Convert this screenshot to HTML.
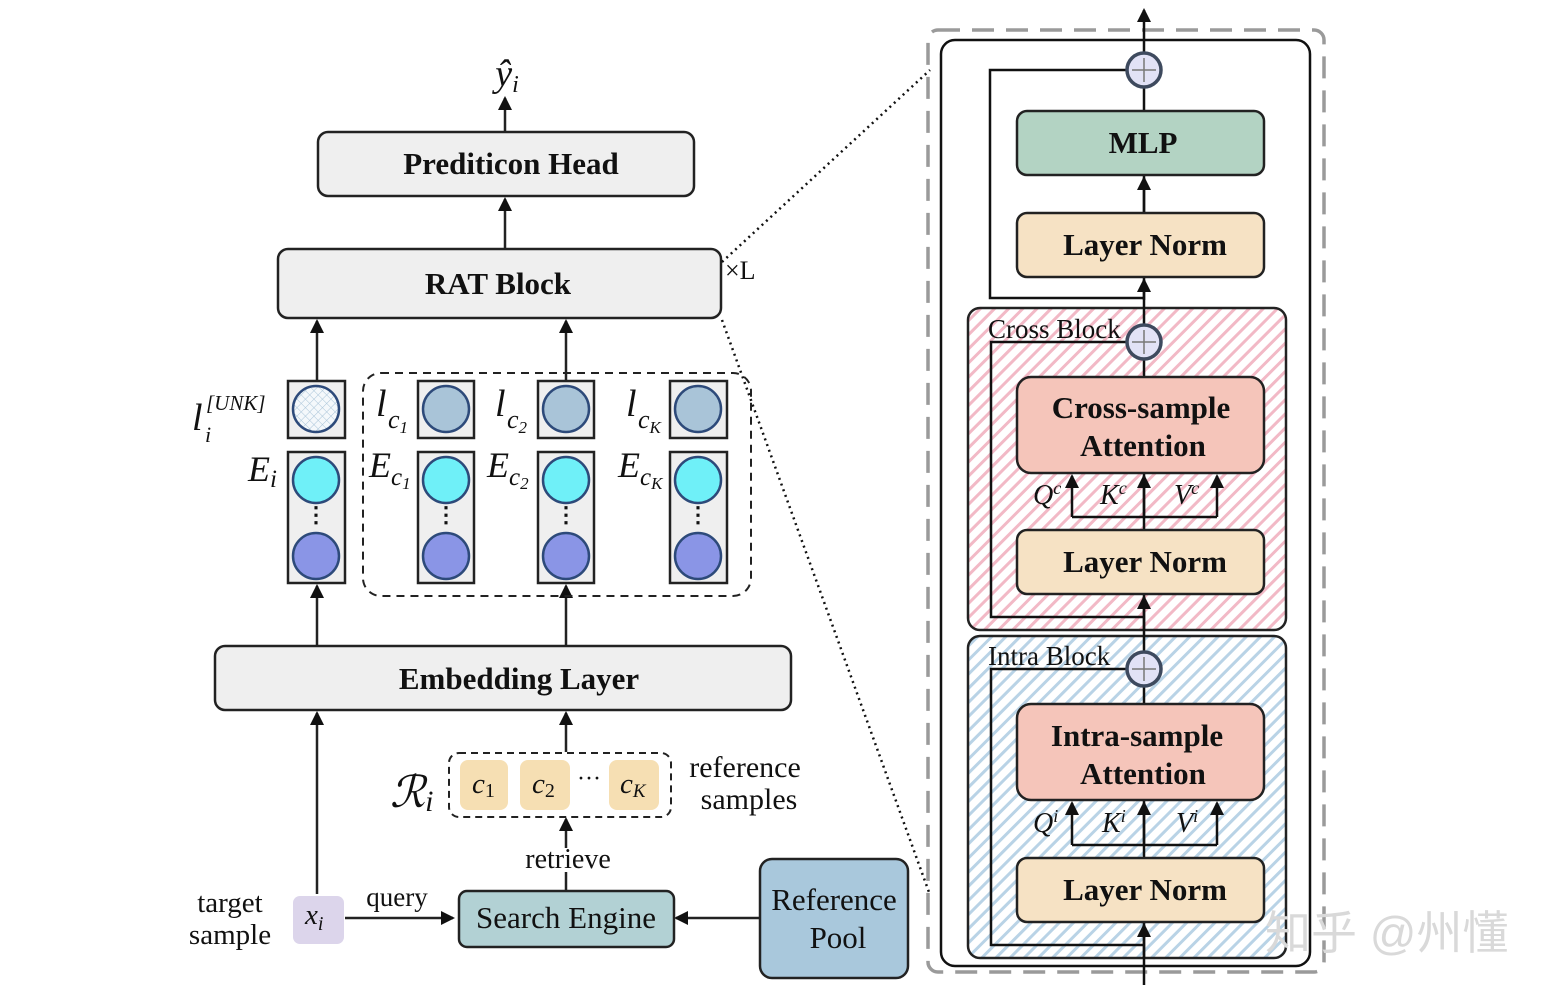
<!DOCTYPE html>
<html><head><meta charset="utf-8"><style>
html,body{margin:0;padding:0;background:#fff;}
svg{display:block;}
text{font-family:"Liberation Serif",serif;fill:#111;}
.b{font-weight:bold;}
.i{font-style:italic;}
</style></head><body>
<svg width="1552" height="994" viewBox="0 0 1552 994" xmlns="http://www.w3.org/2000/svg">
<defs>
<marker id="ah2" markerWidth="14" markerHeight="14" refX="12" refY="7" orient="auto" markerUnits="userSpaceOnUse"><path d="M0,0 L14,7 L0,14 z" fill="#111"/></marker>
<pattern id="pink" width="10" height="10" patternUnits="userSpaceOnUse" patternTransform="rotate(45)"><rect width="10" height="10" fill="#fff"/><rect width="3" height="10" fill="#f2b9c6"/></pattern>
<pattern id="blue" width="10" height="10" patternUnits="userSpaceOnUse" patternTransform="rotate(45)"><rect width="10" height="10" fill="#fff"/><rect width="3" height="10" fill="#b9d3e6"/></pattern>
<pattern id="mesh" width="6" height="6" patternUnits="userSpaceOnUse" patternTransform="rotate(45)"><rect width="6" height="6" fill="#f4f8fb"/><path d="M0,0 H6 M0,0 V6" stroke="#a9c4d8" stroke-width="1"/></pattern>
</defs>

<g stroke="#222" stroke-width="2.5" fill="none">
<line x1="505" y1="131" x2="505" y2="98" marker-end="url(#ah2)"/>
<line x1="505" y1="248" x2="505" y2="199" marker-end="url(#ah2)"/>
<line x1="317" y1="380" x2="317" y2="321" marker-end="url(#ah2)"/>
<line x1="566" y1="380" x2="566" y2="321" marker-end="url(#ah2)"/>
<line x1="317" y1="645" x2="317" y2="586" marker-end="url(#ah2)"/>
<line x1="566" y1="645" x2="566" y2="586" marker-end="url(#ah2)"/>
<line x1="317" y1="894" x2="317" y2="713" marker-end="url(#ah2)"/>
<line x1="566" y1="752" x2="566" y2="713" marker-end="url(#ah2)"/>
<line x1="566" y1="890" x2="566" y2="819" marker-end="url(#ah2)"/>
<line x1="345" y1="918" x2="453" y2="918" marker-end="url(#ah2)"/>
<line x1="759" y1="918" x2="676" y2="918" marker-end="url(#ah2)"/>
</g>

<rect x="318" y="132" width="376" height="64" rx="10" fill="#efefef" stroke="#222" stroke-width="2.5"/>
<text x="511" y="174" font-size="31" text-anchor="middle" class="b">Prediticon Head</text>
<text x="507" y="86" font-size="38" text-anchor="middle" class="i">ŷ<tspan font-size="24" dy="6">i</tspan></text>

<rect x="278" y="249" width="443" height="69" rx="10" fill="#efefef" stroke="#222" stroke-width="2.5"/>
<text x="498" y="294" font-size="31" text-anchor="middle" class="b">RAT Block</text>
<text x="725" y="279" font-size="26">×L</text>

<rect x="363" y="373" width="388" height="223" rx="18" fill="none" stroke="#222" stroke-width="2" stroke-dasharray="8,6"/>

<g stroke="#222" stroke-width="2.5">
<rect x="288" y="381" width="57" height="57" fill="#efefef"/>
<rect x="288" y="452" width="57" height="131" fill="#efefef"/>
<rect x="418" y="381" width="56" height="57" fill="#efefef"/>
<rect x="418" y="452" width="56" height="131" fill="#efefef"/>
<rect x="538" y="381" width="56" height="57" fill="#efefef"/>
<rect x="538" y="452" width="56" height="131" fill="#efefef"/>
<rect x="670" y="381" width="57" height="57" fill="#efefef"/>
<rect x="670" y="452" width="57" height="131" fill="#efefef"/>
</g>
<g stroke="#2d4a7a" stroke-width="2.5">
<circle cx="316" cy="409" r="23" fill="url(#mesh)"/>
<circle cx="446" cy="409" r="23" fill="#a9c4d8"/>
<circle cx="566" cy="409" r="23" fill="#a9c4d8"/>
<circle cx="698" cy="409" r="23" fill="#a9c4d8"/>
<circle cx="316" cy="480" r="23" fill="#6ff0f8"/>
<circle cx="446" cy="480" r="23" fill="#6ff0f8"/>
<circle cx="566" cy="480" r="23" fill="#6ff0f8"/>
<circle cx="698" cy="480" r="23" fill="#6ff0f8"/>
<circle cx="316" cy="556" r="23" fill="#8a95e6"/>
<circle cx="446" cy="556" r="23" fill="#8a95e6"/>
<circle cx="566" cy="556" r="23" fill="#8a95e6"/>
<circle cx="698" cy="556" r="23" fill="#8a95e6"/>
</g>
<g font-size="22" text-anchor="middle" font-weight="bold">
<text x="316" y="522">⋮</text><text x="446" y="522">⋮</text><text x="566" y="522">⋮</text><text x="698" y="522">⋮</text>
</g>
<g>
<text x="192" y="430" font-size="38" class="i">l</text><text x="205" y="442" font-size="22" class="i">i</text><text x="206" y="410" font-size="21" class="i">[UNK]</text>
<text x="376" y="416" font-size="38" class="i">l</text><text x="388" y="428" font-size="26" class="i">c<tspan font-size="17" dy="5">1</tspan></text>
<text x="495" y="416" font-size="38" class="i">l</text><text x="507" y="428" font-size="26" class="i">c<tspan font-size="17" dy="5">2</tspan></text>
<text x="626" y="416" font-size="38" class="i">l</text><text x="638" y="428" font-size="26" class="i">c<tspan font-size="17" dy="5">K</tspan></text>
<text x="248" y="481" font-size="36" class="i">E<tspan font-size="25" dy="6">i</tspan></text>
<text x="369" y="477" font-size="36" class="i">E<tspan font-size="25" dy="8">c</tspan><tspan font-size="17" dy="4">1</tspan></text>
<text x="487" y="477" font-size="36" class="i">E<tspan font-size="25" dy="8">c</tspan><tspan font-size="17" dy="4">2</tspan></text>
<text x="618" y="477" font-size="36" class="i">E<tspan font-size="25" dy="8">c</tspan><tspan font-size="17" dy="4">K</tspan></text>
</g>

<rect x="215" y="646" width="576" height="64" rx="10" fill="#efefef" stroke="#222" stroke-width="2.5"/>
<text x="519" y="689" font-size="31" text-anchor="middle" class="b">Embedding Layer</text>

<rect x="449" y="753" width="222" height="64" rx="10" fill="none" stroke="#222" stroke-width="2" stroke-dasharray="7,5"/>
<rect x="460" y="760" width="48" height="50" rx="8" fill="#f6dfb3"/>
<rect x="520" y="760" width="50" height="50" rx="8" fill="#f6dfb3"/>
<rect x="609" y="760" width="50" height="50" rx="8" fill="#f6dfb3"/>
<text x="472" y="793" font-size="29" class="i">c<tspan font-size="20" dy="4" font-style="normal">1</tspan></text>
<text x="532" y="793" font-size="29" class="i">c<tspan font-size="20" dy="4" font-style="normal">2</tspan></text>
<text x="620" y="793" font-size="29" class="i">c<tspan font-size="19" dy="4">K</tspan></text>
<text x="589" y="786" font-size="24" text-anchor="middle">···</text>
<text x="390" y="807" font-size="44" class="i">ℛ<tspan font-size="30" dy="4">i</tspan></text>
<text x="745" y="777" font-size="30" text-anchor="middle">reference</text>
<text x="749" y="809" font-size="30" text-anchor="middle">samples</text>
<rect x="528" y="848" width="82" height="24" fill="#fff"/>
<text x="568" y="868" font-size="28" text-anchor="middle">retrieve</text>

<rect x="459" y="891" width="215" height="56" rx="8" fill="#b2d1d4" stroke="#222" stroke-width="2.5"/>
<text x="566" y="928" font-size="31" text-anchor="middle">Search Engine</text>
<rect x="760" y="859" width="148" height="119" rx="12" fill="#a9c8dc" stroke="#222" stroke-width="2.5"/>
<text x="834" y="910" font-size="31" text-anchor="middle">Reference</text>
<text x="838" y="948" font-size="31" text-anchor="middle">Pool</text>
<rect x="293" y="896" width="51" height="48" rx="7" fill="#dcd5eb"/>
<text x="305" y="924" font-size="29" class="i">x<tspan font-size="20" dy="6">i</tspan></text>
<text x="397" y="906" font-size="27" text-anchor="middle">query</text>
<text x="230" y="912" font-size="29" text-anchor="middle">target</text>
<text x="230" y="944" font-size="29" text-anchor="middle">sample</text>

<line x1="722" y1="262" x2="930" y2="70" stroke="#111" stroke-width="2.5" stroke-dasharray="2,4"/>
<line x1="722" y1="320" x2="930" y2="895" stroke="#111" stroke-width="2.5" stroke-dasharray="2,4"/>

<rect x="928" y="30" width="396" height="942" rx="10" fill="none" stroke="#9a9a9a" stroke-width="3.5" stroke-dasharray="22,12"/>
<rect x="941" y="40" width="369" height="926" rx="14" fill="none" stroke="#111" stroke-width="2.5"/>

<rect x="968" y="308" width="318" height="322" rx="12" fill="url(#pink)" stroke="#222" stroke-width="2.5"/>
<rect x="968" y="636" width="318" height="322" rx="12" fill="url(#blue)" stroke="#222" stroke-width="2.5"/>
<text x="988" y="338" font-size="27">Cross Block</text>
<text x="988" y="665" font-size="27">Intra Block</text>

<g stroke="#111" stroke-width="2.5" fill="none">
<line x1="1144" y1="985" x2="1144" y2="10" marker-end="url(#ah2)"/>
<polyline points="1144,298 990,298 990,70 1126,70"/>
<polyline points="1144,617 991,617 991,342 1126,342"/>
<polyline points="1144,945 991,945 991,669 1126,669"/>
<polyline points="1072,517 1217,517"/>
<line x1="1072" y1="517" x2="1072" y2="476" marker-end="url(#ah2)"/>
<line x1="1217" y1="517" x2="1217" y2="476" marker-end="url(#ah2)"/>
<line x1="1144" y1="517" x2="1144" y2="476" marker-end="url(#ah2)"/>
<polyline points="1072,845 1217,845"/>
<line x1="1072" y1="845" x2="1072" y2="803" marker-end="url(#ah2)"/>
<line x1="1217" y1="845" x2="1217" y2="803" marker-end="url(#ah2)"/>
<line x1="1144" y1="845" x2="1144" y2="803" marker-end="url(#ah2)"/>
<line x1="1144" y1="212" x2="1144" y2="178" marker-end="url(#ah2)"/>
<line x1="1144" y1="300" x2="1144" y2="280" marker-end="url(#ah2)"/>
<line x1="1144" y1="630" x2="1144" y2="597" marker-end="url(#ah2)"/>
<line x1="1144" y1="958" x2="1144" y2="925" marker-end="url(#ah2)"/>
</g>

<rect x="1017" y="111" width="247" height="64" rx="10" fill="#b3d3c3" stroke="#222" stroke-width="2.5"/>
<text x="1143" y="153" font-size="31" text-anchor="middle" class="b">MLP</text>
<rect x="1017" y="213" width="247" height="64" rx="10" fill="#f6e2c4" stroke="#222" stroke-width="2.5"/>
<text x="1145" y="255" font-size="31" text-anchor="middle" class="b">Layer Norm</text>

<rect x="1017" y="377" width="247" height="96" rx="14" fill="#f5c5ba" stroke="#222" stroke-width="2.5"/>
<text x="1141" y="418" font-size="31" text-anchor="middle" class="b">Cross-sample</text>
<text x="1143" y="456" font-size="31" text-anchor="middle" class="b">Attention</text>
<rect x="1017" y="530" width="247" height="64" rx="10" fill="#f6e2c4" stroke="#222" stroke-width="2.5"/>
<text x="1145" y="572" font-size="31" text-anchor="middle" class="b">Layer Norm</text>

<rect x="1017" y="704" width="247" height="96" rx="14" fill="#f5c5ba" stroke="#222" stroke-width="2.5"/>
<text x="1137" y="746" font-size="31" text-anchor="middle" class="b">Intra-sample</text>
<text x="1143" y="784" font-size="31" text-anchor="middle" class="b">Attention</text>
<rect x="1017" y="858" width="247" height="64" rx="10" fill="#f6e2c4" stroke="#222" stroke-width="2.5"/>
<text x="1145" y="900" font-size="31" text-anchor="middle" class="b">Layer Norm</text>

<g font-size="28">
<text x="1033" y="504" class="i">Q<tspan font-size="18" dy="-10">c</tspan></text>
<text x="1100" y="504" class="i">K<tspan font-size="18" dy="-10">c</tspan></text>
<text x="1174" y="504" class="i">V<tspan font-size="18" dy="-10">c</tspan></text>
<text x="1033" y="832" class="i">Q<tspan font-size="18" dy="-10">i</tspan></text>
<text x="1102" y="832" class="i">K<tspan font-size="18" dy="-10">i</tspan></text>
<text x="1176" y="832" class="i">V<tspan font-size="18" dy="-10">i</tspan></text>
</g>

<g stroke="#3e4a5e" stroke-width="3.5">
<circle cx="1144" cy="70" r="17" fill="#e2e2f6"/>
<circle cx="1144" cy="342" r="17" fill="#e2e2f6"/>
<circle cx="1144" cy="669" r="17" fill="#e2e2f6"/>
</g>
<g stroke="#777" stroke-width="1.5">
<path d="M1132,70 H1156 M1144,58 V82"/>
<path d="M1132,342 H1156 M1144,330 V354"/>
<path d="M1132,669 H1156 M1144,657 V681"/>
</g>

<text x="1265" y="949" font-size="46" style="fill:#d9d9d9;font-family:'Liberation Sans','Noto Sans CJK SC',sans-serif;">知乎 @州懂</text>
</svg>
</body></html>
